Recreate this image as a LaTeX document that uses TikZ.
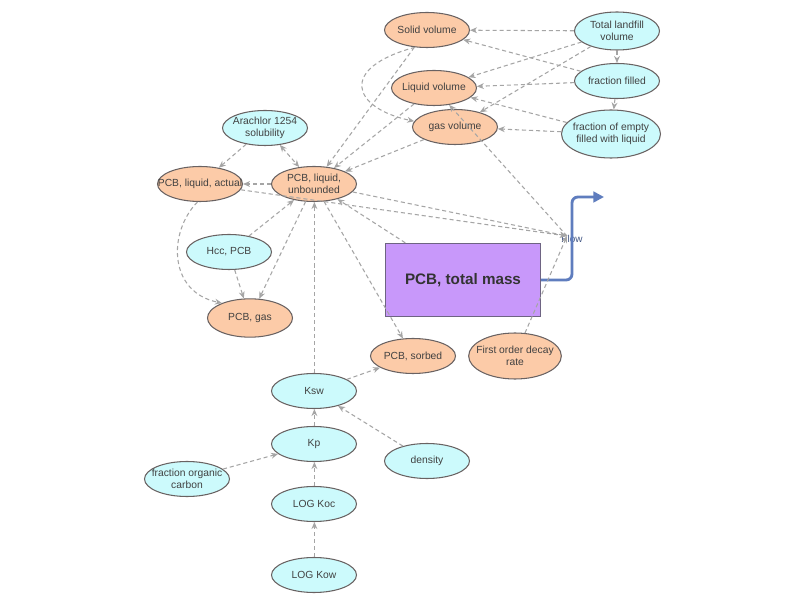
\documentclass[tikz,border=0pt]{standalone}
\usepackage{fontspec}
\setmainfont{Liberation Sans}
\usetikzlibrary{shapes.geometric,arrows.meta}
\definecolor{peach}{RGB}{252,203,168}
\definecolor{aqua}{RGB}{204,250,252}
\definecolor{lilac}{RGB}{200,152,250}
\definecolor{rimcol}{RGB}{105,98,98}
\definecolor{boxrim}{RGB}{110,100,130}
\definecolor{edgecol}{RGB}{165,165,165}
\definecolor{flowblue}{RGB}{95,125,190}
\definecolor{txt}{RGB}{65,65,65}
\begin{document}
\begin{tikzpicture}[x=0.03cm,y=-0.03cm,
  oval/.style={ellipse, draw=rimcol, line width=0.9pt, minimum width=2.55cm, minimum height=1.05cm,
    inner xsep=-30pt, inner ysep=-8pt, align=center, font=\fontsize{8.8}{10.5}\selectfont, text=txt},
  stock/.style={oval, fill=peach},
  param/.style={oval, fill=aqua},
  edge/.style={draw=edgecol, line width=0.9pt, dash pattern=on 3.5pt off 2.5pt,
    -{Stealth[length=6pt,width=5pt]}},
  edgetwo/.style={edge, {Stealth[length=6pt,width=5pt]}-{Stealth[length=6pt,width=5pt]}},
  flowline/.style={draw=flowblue, line width=2.4pt, rounded corners=5pt,
    -{Triangle[length=9pt,width=9pt]}}
]
\fill[white] (0,0) rectangle (800,600);
\useasboundingbox (0,0) rectangle (800,600);

% stocks / variables
\node[stock] (solid) at (427,30) {Solid volume};
\node[stock] (liquid) at (434,88) {Liquid volume};
\node[stock] (gas) at (455,127) {gas volume};
\node[param, minimum height=1.14cm] (total) at (617,31) {Total landfill\\volume};
\node[param] (ffill) at (617,81) {fraction filled};
\node[param, minimum width=2.97cm, minimum height=1.44cm] (fempty) at (611,134) {fraction of empty\\filled with liquid};
\node[param] (aroclor) at (265,128) {Arachlor 1254\\solubility};
\node[stock] (actual) at (200,184) {PCB, liquid, actual};
\node[stock] (unbound) at (314,184) {PCB, liquid,\\unbounded};
\node[param] (hcc) at (229,252) {Hcc, PCB};
\node[stock, minimum height=1.15cm] (pcbgas) at (250,318) {PCB, gas};
\node[draw=boxrim, line width=0.9pt, fill=lilac, minimum width=4.65cm, minimum height=2.2cm,
  inner sep=0pt, text=black!80, font=\fontsize{13}{15}\selectfont\bfseries] (mass) at (463,280) {PCB, total mass};
\node[stock] (sorbed) at (413,356) {PCB, sorbed};
\node[stock, minimum width=2.78cm, minimum height=1.38cm] (decay) at (515,356) {First order decay\\rate};
\node[param] (ksw) at (314,391) {Ksw};
\node[param] (kp) at (314,444) {Kp};
\node[param] (density) at (427,461) {density};
\node[param] (foc) at (187,479) {fraction organic\\carbon};
\node[param] (koc) at (314,504) {LOG Koc};
\node[param] (kow) at (314,575) {LOG Kow};

% flow
\node[text=flowblue!70!black, font=\fontsize{8.5}{9}\selectfont, inner sep=0pt] (flowlab) at (572,239) {Flow};
\coordinate (flowc) at (567,236);
\coordinate (flowend) at (604,197);
\draw[flowline] (mass.east) -| (flowlab.north -| 572,0) |- (flowend);

% links
\draw[edge] (total) -- (solid);
\draw[edge] (total) -- (ffill);
\draw[edge] (ffill) -- (fempty);
\draw[edge] (ffill) -- (solid);
\draw[edge] (total) -- (liquid);
\draw[edge] (ffill) -- (liquid);
\draw[edge] (total) -- (gas);
\draw[edge] (fempty) -- (liquid);
\draw[edge] (fempty) -- (gas);
\draw[edge] (solid.235) .. controls (338,68) and (352,108) .. (gas.172);
\draw[edge] (solid) -- (unbound);
\draw[edge] (liquid) -- (unbound);
\draw[edge] (gas) -- (unbound);
\draw[edge] (aroclor) -- (actual);
\draw[edgetwo] (aroclor) -- (unbound);
\draw[edge] (unbound) -- (actual);
\draw[edge] (actual.262) .. controls (168,232) and (168,292) .. (pcbgas.152);
\draw[edge] (actual) -- (flowc);
\draw[edge] (unbound) -- (flowc);
\draw[edge] (decay) -- (flowc);
\draw[edge] (flowc) -- (liquid);
\draw[edge] (mass) -- (unbound);
\draw[edge] (hcc) -- (unbound);
\draw[edge] (hcc) -- (pcbgas);
\draw[edge] (unbound) -- (pcbgas);
\draw[edge] (ksw.north -| 314.4,0) -- (unbound.south -| 314.4,0);
\draw[edge] (unbound) -- (sorbed);
\draw[edge] (ksw) -- (sorbed);
\draw[edge] (kp.north -| 314.4,0) -- (ksw.south -| 314.4,0);
\draw[edge] (density) -- (ksw);
\draw[edge] (foc) -- (kp);
\draw[edge] (koc.north -| 314.4,0) -- (kp.south -| 314.4,0);
\draw[edge] (kow.north -| 314.4,0) -- (koc.south -| 314.4,0);
\end{tikzpicture}
\end{document}
